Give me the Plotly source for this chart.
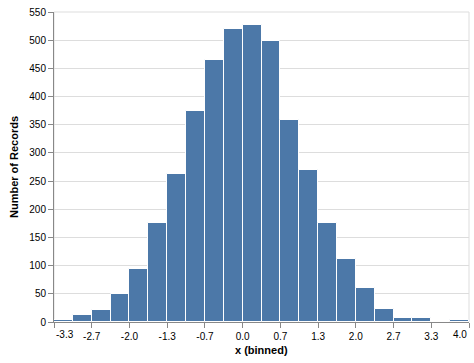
import plotly.graph_objects as go

# Data: histogram of x, bin width 1/3 from -10/3 to 4
bin_start = -10/3
bin_width = 1/3
counts = [3, 13, 22, 49, 94, 175, 263, 374, 464, 520, 527, 498,
          358, 269, 175, 111, 61, 23, 7, 7, 0, 3]
tick_vals = [-10/3, -8/3, -2.0, -4/3, -2/3, 0.0, 2/3, 4/3, 2.0, 8/3, 10/3, 4.0]
tick_text = ["-3.3", "-2.7", "-2.0", "-1.3", "-0.7", "0.0", "0.7", "1.3", "2.0", "2.7", "3.3", "4.0"]

centers = [bin_start + bin_width * (i + 0.5) for i in range(len(counts))]

FONT = "Liberation Sans, Arial, Helvetica, sans-serif"

fig = go.Figure()
fig.add_trace(go.Bar(
    x=centers, y=counts, width=bin_width,
    marker=dict(color="#4c78a8", line=dict(color="white", width=1)),
    hoverinfo="x+y",
))

mid_text = [""] + tick_text[1:-1] + [""]

fig.update_layout(
    width=474, height=363,
    margin=dict(l=54, r=5, t=12, b=41, autoexpand=False),
    paper_bgcolor="white", plot_bgcolor="white",
    showlegend=False,
    font=dict(family=FONT, size=10, color="#000"),
    bargap=0,
    xaxis=dict(
        range=[tick_vals[0], tick_vals[-1]],
        tickmode="array", tickvals=tick_vals, ticktext=mid_text,
        ticks="outside", ticklen=5, tickcolor="#888", tickwidth=1,
        showline=True, linecolor="#888", linewidth=1,
        showgrid=False, zeroline=False, automargin=False,
        tickfont=dict(family=FONT, size=10, color="#000"),
    ),
    yaxis=dict(
        range=[0, 550], tickmode="linear", tick0=0, dtick=50,
        ticks="outside", ticklen=5, tickcolor="#888", tickwidth=1,
        showline=True, linecolor="#888", linewidth=1,
        showgrid=True, gridcolor="#ddd", gridwidth=1,
        zeroline=False, automargin=False,
        tickfont=dict(family=FONT, size=10, color="#000"),
    ),
)

# view border (right and top)
fig.add_shape(type="rect", xref="paper", yref="paper", x0=0, x1=1, y0=0, y1=1,
              line=dict(color="#ddd", width=1), layer="below")

# flush first/last tick labels
fig.add_annotation(x=tick_vals[0], xref="x", y=0, yref="paper", yshift=-12,
                   text=tick_text[0], showarrow=False, xanchor="left", yanchor="middle",
                   font=dict(family=FONT, size=10, color="#000"))
fig.add_annotation(x=tick_vals[-1], xref="x", y=0, yref="paper", yshift=-12,
                   text=tick_text[-1], showarrow=False, xanchor="right", yanchor="middle",
                   font=dict(family=FONT, size=10, color="#000"))

# axis titles
fig.add_annotation(x=0.5, xref="paper", y=0, yref="paper", yshift=-28,
                   text="<b>x (binned)</b>", showarrow=False, xanchor="center", yanchor="middle",
                   font=dict(family=FONT, size=11, color="#000"))
fig.add_annotation(x=0, xref="paper", xshift=-40, y=0.5, yref="paper",
                   text="<b>Number of Records</b>", showarrow=False, textangle=-90,
                   xanchor="center", yanchor="middle",
                   font=dict(family=FONT, size=11, color="#000"))

fig.write_html("out.html", config={"displayModeBar": False},
               post_script="document.body.style.margin='0';document.body.style.overflow='hidden';")
